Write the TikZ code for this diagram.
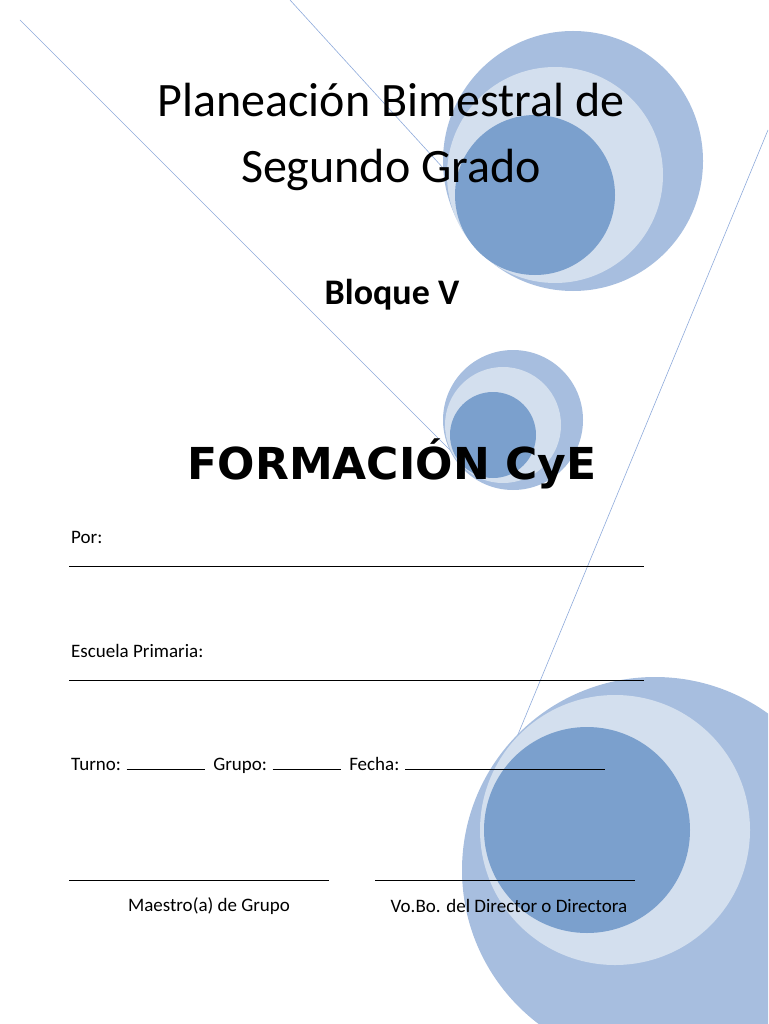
\documentclass[tikz,border=0pt]{standalone}
\usepackage{fontspec}
\setmainfont{Carlito}
\newfontfamily\dvs{DejaVu Sans}
\definecolor{cout}{HTML}{A7BEDF}
\definecolor{cmid}{HTML}{D3DFEE}
\definecolor{cin}{HTML}{7BA0CD}
\definecolor{cline}{HTML}{8EAADB}
\begin{document}
\begin{tikzpicture}[x=1pt,y=-1pt,
  body/.style={anchor=west,font=\fontsize{19}{22}\selectfont,inner sep=0pt},
  thin/.style={draw=cline,line width=0.6pt}]
\useasboundingbox (0,0) rectangle (768,1024);
\clip (0,0) rectangle (768,1024);
\coordinate (l1a) at (20,20); \coordinate (l1b) at (455,455);
\coordinate (l2a) at (290,0); \coordinate (l2b) at (495,225);
\coordinate (l3a) at (768,130); \coordinate (l3b) at (495,790);
\draw[thin] (l1a) -- (l1b);
\draw[thin] (l2a) -- (l2b);
\draw[thin] (l3a) -- (l3b);
% top circles
\fill[cout] (573,161) circle (130);
\fill[cmid] (555,175) circle (108);
\fill[cin] (535,195) circle (80);
% middle circles
\fill[cout] (513,420) circle (70);
\fill[cmid] (503,425) circle (58);
\fill[cin] (493,435) circle (43);
% bottom circles
\fill[cout] (655,870) circle (193);
\fill[cmid] (615,830) circle (135);
\fill[cin] (587,830) circle (103);
\node (t1) at (391,100) {\fontsize{48}{56}\selectfont Planeación Bimestral de};
\node (t2) at (391,170) {\fontsize{48}{56}\selectfont Segundo Grado};
\node (t3) at (392,295) {\fontsize{36}{42}\selectfont\bfseries Bloque V};
\node (t4) at (392,464) {\dvs\fontsize{44}{50}\selectfont\bfseries FORMACIÓN CyE};
\node[body] (por) at (71,537) {Por:};
\node[body] (por2) at (69,566) {\rule{575pt}{0.6pt}};
\node[body] (esc) at (71,651) {Escuela Primaria:};
\node[body] (esc2) at (69,680) {\rule{575pt}{0.6pt}};
\node[body] (tur) at (71,765) {Turno: \rule{78pt}{0.6pt}\ \ Grupo: \rule{68pt}{0.6pt}\ \ Fecha: \rule{200pt}{0.6pt}};
\node[body] (s1) at (69,880) {\rule{260pt}{0.6pt}};
\node[body] (s2) at (375,880) {\rule{260pt}{0.6pt}};
\node (m1) at (209,906) {\fontsize{19}{22}\selectfont Maestro(a) de Grupo};
\node (m2) at (509,906) {\fontsize{19}{22}\selectfont Vo.Bo. del Director o Directora};
\end{tikzpicture}
\end{document}
